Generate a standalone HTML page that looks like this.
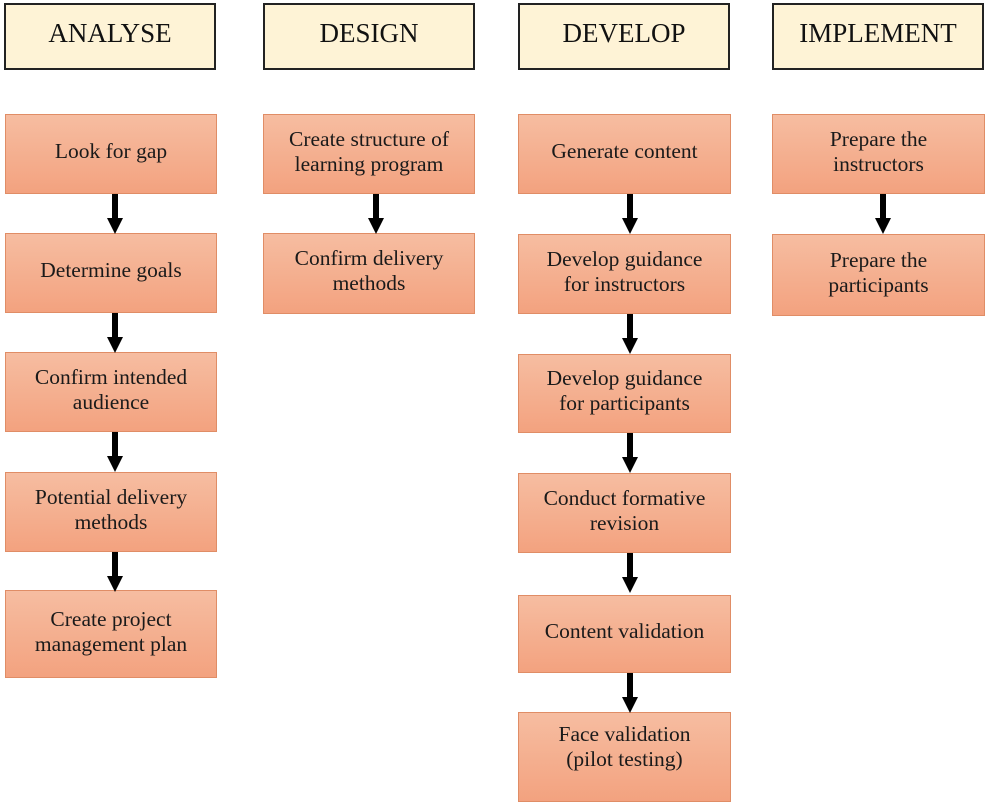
<!DOCTYPE html>
<html><head><style>
body{margin:0;width:986px;height:794px;background:#fff;position:relative;overflow:hidden;font-family:"Liberation Serif",serif;}
.h{position:absolute;top:3px;height:63px;background:#fef3d6;border:2px solid #222;box-sizing:content-box;display:flex;align-items:center;justify-content:center;font-size:27px;color:#111;padding-bottom:6px;height:57px;}
.b{position:absolute;box-sizing:border-box;background:linear-gradient(#f6bda1,#f3a27f);border:1.5px solid #e08d66;display:flex;align-items:center;justify-content:center;text-align:center;font-size:21.5px;line-height:25px;color:#1a1a1a;padding-bottom:5px;}
</style></head><body>
<div class="h" style="left:4px;width:208px;">ANALYSE</div>
<div class="h" style="left:263px;width:208px;">DESIGN</div>
<div class="h" style="left:518px;width:208px;">DEVELOP</div>
<div class="h" style="left:772px;width:208px;">IMPLEMENT</div>

<div class="b" style="left:5px;width:212px;top:114px;height:80px;">Look for gap</div>
<div class="b" style="left:5px;width:212px;top:233px;height:80px;">Determine goals</div>
<div class="b" style="left:5px;width:212px;top:352px;height:80px;">Confirm intended<br>audience</div>
<div class="b" style="left:5px;width:212px;top:472px;height:80px;">Potential delivery<br>methods</div>
<div class="b" style="left:5px;width:212px;top:590px;height:88px;">Create project<br>management plan</div>

<div class="b" style="left:263px;width:212px;top:114px;height:80px;">Create structure of<br>learning program</div>
<div class="b" style="left:263px;width:212px;top:233px;height:81px;">Confirm delivery<br>methods</div>

<div class="b" style="left:518px;width:213px;top:114px;height:80px;">Generate content</div>
<div class="b" style="left:518px;width:213px;top:234px;height:80px;">Develop guidance<br>for instructors</div>
<div class="b" style="left:518px;width:213px;top:354px;height:79px;">Develop guidance<br>for participants</div>
<div class="b" style="left:518px;width:213px;top:473px;height:80px;">Conduct formative<br>revision</div>
<div class="b" style="left:518px;width:213px;top:595px;height:78px;">Content validation</div>
<div class="b" style="left:518px;width:213px;top:712px;height:90px;padding-bottom:20px;">Face validation<br>(pilot testing)</div>

<div class="b" style="left:772px;width:213px;top:114px;height:80px;">Prepare the<br>instructors</div>
<div class="b" style="left:772px;width:213px;top:234px;height:82px;">Prepare the<br>participants</div>

<svg width="986" height="794" style="position:absolute;left:0;top:0">
<defs><g id="a"><rect x="-3" y="0" width="6" height="27" fill="#000"/><polygon points="-8,24 8,24 0,40" fill="#000"/></g></defs>
<use href="#a" x="115" y="194"/>
<use href="#a" x="115" y="313"/>
<use href="#a" x="115" y="432"/>
<use href="#a" x="115" y="552"/>
<use href="#a" x="376" y="194"/>
<use href="#a" x="630" y="194"/>
<use href="#a" x="630" y="314"/>
<use href="#a" x="630" y="433"/>
<use href="#a" x="630" y="553"/>
<use href="#a" x="630" y="673"/>
<use href="#a" x="883" y="194"/>
</svg>
</body></html>
